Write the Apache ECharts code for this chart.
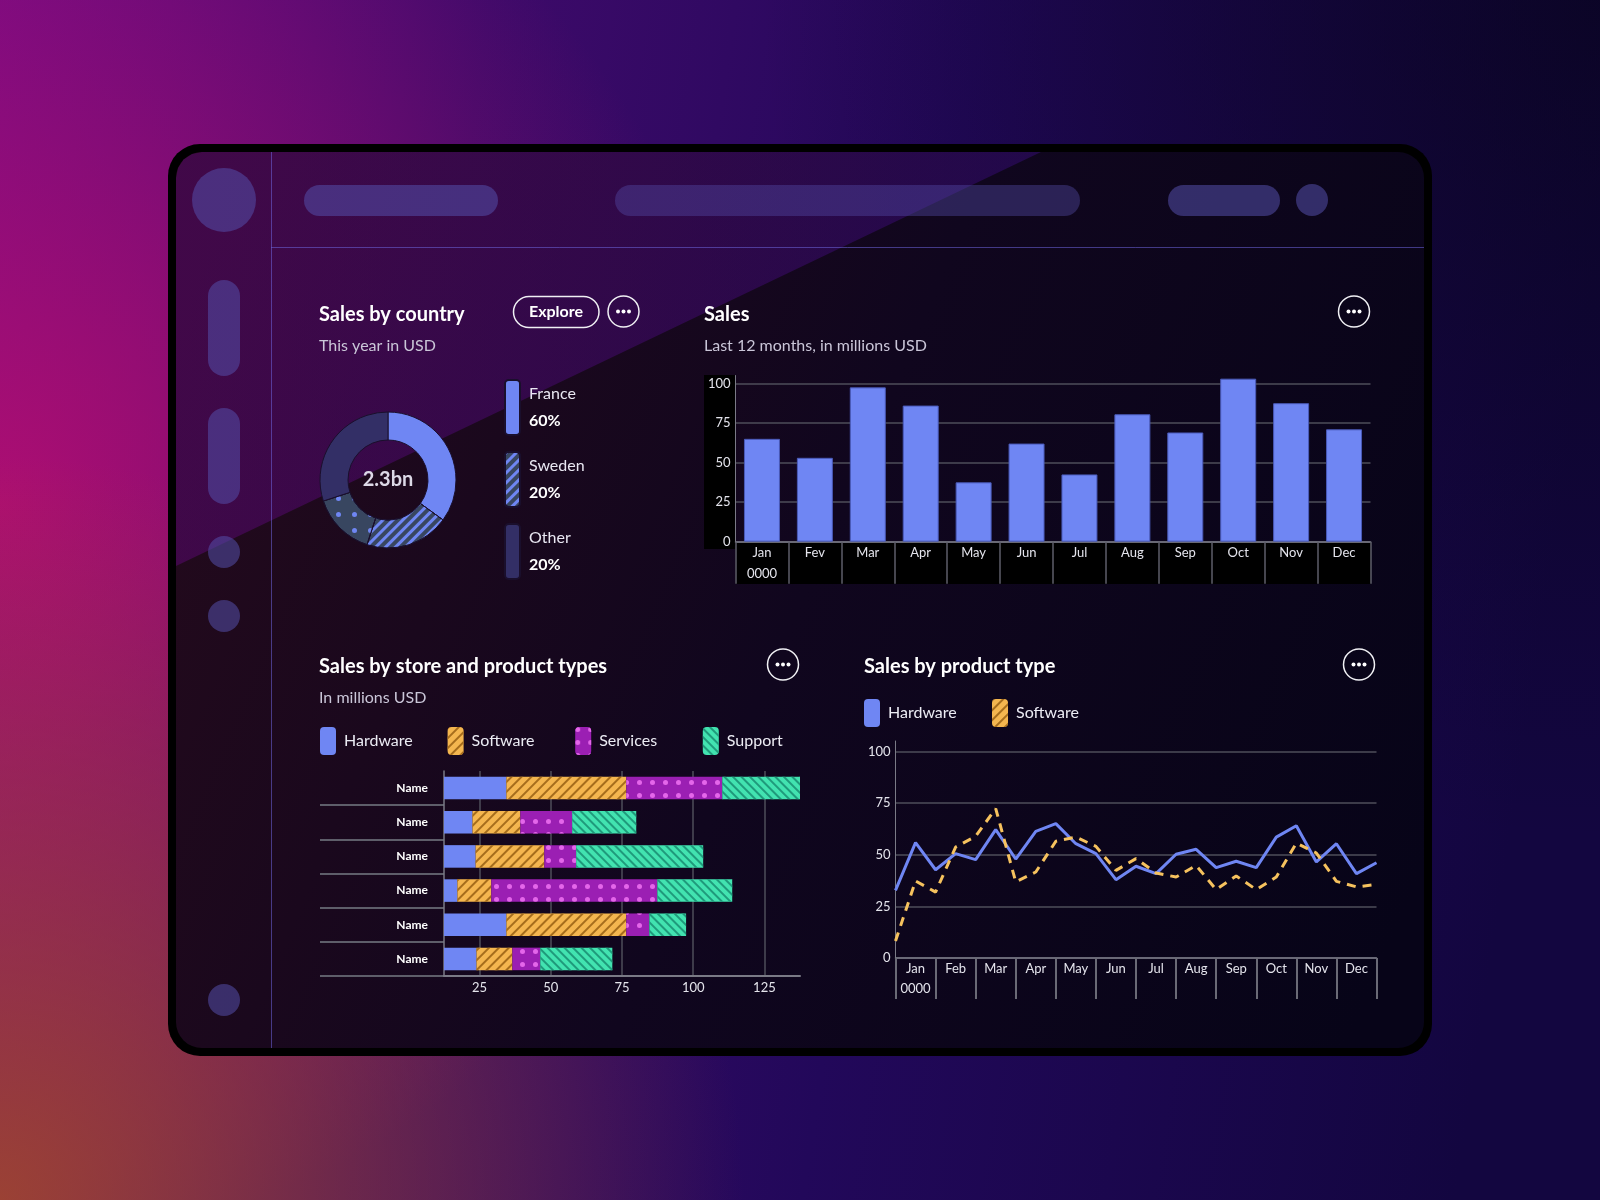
<!DOCTYPE html>
<html>
<head>
<meta charset="utf-8">
<title>Sales dashboard</title>
<script src="https://cdn.jsdelivr.net/npm/echarts@6/dist/echarts.min.js"></script>
<style>
  html, body { margin: 0; padding: 0; background: #1a0845; }
  #chart { width: 1600px; height: 1200px; }
</style>
</head>
<body>
<div id="chart"></div>
<script>
// --- data -------------------------------------------------------------
// Sales by country (donut)
const countries = ['France', 'Sweden', 'Unlisted', 'Other'];
const countryShares = [35, 20, 15, 30];
const legendCountries = ['France', 'Sweden', 'Other'];
const legendShares = ['60%', '20%', '20%'];
const totalLabel = '2.3bn';

// Sales, last 12 months
const months = ['Jan', 'Fev', 'Mar', 'Apr', 'May', 'Jun', 'Jul', 'Aug', 'Sep', 'Oct', 'Nov', 'Dec'];
const monthlySales = [65, 53, 97.5, 86, 37.5, 62, 42.5, 80.5, 69, 103, 87.5, 71];
const yearLabel = '0000';

// Sales by store and product types
const storeNames = ['Name', 'Name', 'Name', 'Name', 'Name', 'Name'];
const productTypes = ['Hardware', 'Software', 'Services', 'Support'];
const hardwareByStore = [34.4, 22.5, 23.6, 17.2, 34.4, 23.9];
const softwareByStore = [42.1, 16.8, 24.1, 11.9, 42.1, 12.6];
const servicesByStore = [33.7, 18.2, 11.2, 58.3, 8.1, 9.8];
const supportByStore = [27.3, 22.5, 44.6, 26.3, 12.9, 25.3];

// Sales by product type (two points per month + end point)
const trendMonths = ['Jan', 'Feb', 'Mar', 'Apr', 'May', 'Jun', 'Jul', 'Aug', 'Sep', 'Oct', 'Nov', 'Dec'];
const trendSteps = ['1', '2', '3', '4', '5', '6', '7', '8', '9', '10', '11', '12', '13',
  '14', '15', '16', '17', '18', '19', '20', '21', '22', '23', '24', '25'];
const hardwareTrend = [32.7, 55.8, 42.7, 50.5, 47.6, 62.1, 47.9, 61.3, 65.0, 55.3, 50.5, 37.9, 44.4,
  40.8, 50.2, 52.6, 43.7, 46.8, 43.7, 58.5, 64.0, 46.5, 55.3, 40.8, 46.1];
const softwareTrend = [8.2, 37.3, 31.9, 53.7, 58.9, 72.3, 36.8, 41.6, 56.5, 58.5, 54.0, 42.4, 48.1,
  41.1, 39.2, 44.8, 33.1, 39.7, 33.1, 39.2, 55.6, 50.8, 37.1, 34.4, 35.6];

// --- styles -----------------------------------------------------------
const FONT = 'Lato';
const BLUE = '#6f86f3';
const AXIS_GRAY = '#7a7a86';
const GRID_GRAY = '#4e4e5a';
const TICK_GRAY = '#5e5e6a';
const LABEL = '#e4e4ec';

function stripes(color, rotation, width, gap) {
  return { symbol: 'rect', symbolSize: 1, color, dashArrayX: [1, 0], dashArrayY: [width, gap], rotation };
}
function dots(color, size, gap) {
  return { symbol: 'circle', symbolSize: 1, color, dashArrayX: [size, gap], dashArrayY: [size, gap] };
}

const countryStyles = [
  { color: BLUE },
  { color: '#384660', decal: stripes(BLUE, -Math.PI / 4, 3, 4) },
  { color: '#384660', decal: dots(BLUE, 5, 11) },
  { color: '#332f66' }
];
const productStyles = [
  { color: BLUE },
  { color: '#f4b64f', decal: stripes('#a66d1c', -Math.PI / 4, 2, 5) },
  { color: '#9b1fb3', decal: dots('#e466ea', 4.5, 7.5) },
  { color: '#42e3b0', decal: stripes('#1f9a7b', Math.PI / 4, 1.5, 4) }
];
const storeValues = [hardwareByStore, softwareByStore, servicesByStore, supportByStore];

// --- decoration helpers ------------------------------------------------
const SHAPE_FILL = 'rgba(84,78,170,0.55)';
const LINE_FILL = 'rgba(110,100,220,0.55)';

function pill(x, y, w, h, fill) {
  return { type: 'rect', z: -10, silent: true, shape: { x, y, width: w, height: h, r: Math.min(w, h) / 2 }, style: { fill: fill || SHAPE_FILL } };
}
function disc(cx, cy, r, fill) {
  return { type: 'circle', z: -10, silent: true, shape: { cx, cy, r }, style: { fill: fill || SHAPE_FILL } };
}
function moreButton(cx, cy) {
  return {
    type: 'group', silent: true,
    children: [
      { type: 'circle', shape: { cx, cy, r: 15.5 }, style: { fill: 'none', stroke: '#f0f0f4', lineWidth: 1.5 } },
      { type: 'circle', shape: { cx: cx - 5.5, cy, r: 2 }, style: { fill: '#fff' } },
      { type: 'circle', shape: { cx, cy, r: 2 }, style: { fill: '#fff' } },
      { type: 'circle', shape: { cx: cx + 5.5, cy, r: 2 }, style: { fill: '#fff' } }
    ]
  };
}

const background = [
  { type: 'rect', z: -20, silent: true, shape: { x: 0, y: 0, width: 1600, height: 1200 },
    style: { fill: { type: 'linear', x: 0, y: 0, x2: 1, y2: 0.2, colorStops: [
      { offset: 0, color: '#6c0a84' }, { offset: 0.3, color: '#3e0a6a' },
      { offset: 0.6, color: '#22085a' }, { offset: 1, color: '#130640' }] } } },
  { type: 'rect', z: -20, silent: true, shape: { x: 0, y: 0, width: 1600, height: 1200 },
    style: { fill: { type: 'radial', x: 0, y: 0.42, r: 0.62, colorStops: [
      { offset: 0, color: 'rgba(190,15,110,0.8)' }, { offset: 1, color: 'rgba(190,15,110,0)' }] } } },
  { type: 'rect', z: -20, silent: true, shape: { x: 0, y: 0, width: 1600, height: 1200 },
    style: { fill: { type: 'radial', x: 0, y: 1, r: 0.62, colorStops: [
      { offset: 0, color: 'rgba(165,75,40,0.85)' }, { offset: 1, color: 'rgba(165,75,40,0)' }] } } },
  { type: 'rect', z: -20, silent: true, shape: { x: 0, y: 0, width: 1600, height: 1200 },
    style: { fill: { type: 'radial', x: 1, y: 0, r: 0.7, colorStops: [
      { offset: 0, color: 'rgba(8,4,28,0.7)' }, { offset: 1, color: 'rgba(8,4,28,0)' }] } } },
  // device frame and screen
  { type: 'rect', z: -15, silent: true, shape: { x: 168, y: 144, width: 1264, height: 912, r: 32 }, style: { fill: '#000' } },
  { type: 'rect', z: -14, silent: true, shape: { x: 176, y: 152, width: 1248, height: 896, r: 26 },
    style: { fill: { type: 'linear', x: 0, y: 0.2, x2: 1, y2: 0.8, colorStops: [
      { offset: 0, color: '#240a1c' }, { offset: 0.5, color: '#10061e' }, { offset: 1, color: '#070418' }] } } },
  { type: 'polygon', z: -13, silent: true,
    shape: { points: [[176, 178], [178, 168], [183.6, 159.6], [192, 154], [202, 152], [1041, 152], [176, 566]] },
    style: { fill: { type: 'linear', x: 0, y: 0, x2: 1, y2: 0, colorStops: [
      { offset: 0, color: 'rgba(112,6,145,0.38)' }, { offset: 1, color: 'rgba(70,14,160,0.34)' }] } } },
  { type: 'line', z: -12, silent: true, shape: { x1: 271.5, y1: 152, x2: 271.5, y2: 1048 }, style: { stroke: LINE_FILL, lineWidth: 1 } },
  { type: 'line', z: -12, silent: true, shape: { x1: 271, y1: 247.5, x2: 1424, y2: 247.5 }, style: { stroke: LINE_FILL, lineWidth: 1 } },
  // sidebar
  disc(224, 200, 32), pill(208, 280, 32, 96), pill(208, 408, 32, 96),
  disc(224, 552, 16), disc(224, 616, 16), disc(224, 1000, 16),
  // top bar
  pill(304, 185, 194, 31), pill(615, 185, 465, 31, 'rgba(84,78,170,0.4)'), pill(1168, 185, 112, 31), disc(1312, 200, 16),
  // dark panels behind the sales axes
  { type: 'rect', z: -9, silent: true, shape: { x: 704, y: 375, width: 31.5, height: 174 }, style: { fill: '#000' } },
  { type: 'rect', z: -9, silent: true, shape: { x: 735.5, y: 541.5, width: 635.5, height: 42.5 }, style: { fill: '#000' } }
];

const controls = [
  { type: 'rect', silent: true, shape: { x: 513.5, y: 296.5, width: 85.5, height: 31, r: 15.5 },
    style: { fill: 'none', stroke: '#f0f0f4', lineWidth: 1.5 } },
  { type: 'text', silent: true, x: 556, y: 312,
    style: { text: 'Explore', fill: '#fff', fontFamily: FONT, fontSize: 16, fontWeight: 'bold', align: 'center', verticalAlign: 'middle' } },
  moreButton(623.5, 311.5), moreButton(1354, 311.5), moreButton(783, 664.5), moreButton(1359, 664.5),
  { type: 'text', silent: true, x: 388, y: 480,
    style: { text: totalLabel, fill: '#dcd8e6', fontFamily: FONT, fontSize: 20, fontWeight: 'bold', align: 'center', verticalAlign: 'middle' } }
];

function panelTitle(text, subtext, left, top) {
  return {
    text, subtext, left, top, padding: 0, itemGap: 9,
    textStyle: { color: '#fff', fontFamily: FONT, fontSize: 20, fontWeight: 'bold', lineHeight: 24 },
    subtextStyle: { color: '#cac6d8', fontFamily: FONT, fontSize: 16, lineHeight: 20 }
  };
}

const legendText = { color: '#ececf4', fontFamily: FONT, fontSize: 16 };

// one legend per entry so that the entries sit on an even pitch
function legendItem(name, left, top) {
  return {
    data: [name], left, top, padding: 0,
    itemWidth: 16, itemHeight: 28, icon: 'roundRect', selectedMode: false,
    textStyle: Object.assign({ padding: [0, 0, 0, 3] }, legendText)
  };
}
const storeLegends = productTypes.map((name, i) => legendItem(name, 320 + i * 127.6, 727));
const trendLegends = productTypes.slice(0, 2).map((name, i) => legendItem(name, 864 + i * 128, 699));

// row separators left of the store bars: one under each row, none above the first
const separatorColors = ['rgba(0,0,0,0)'].concat(storeNames.map(() => TICK_GRAY));

const valueLabel = { color: LABEL, fontFamily: FONT, fontSize: 13 };

const chart = echarts.init(document.getElementById('chart'));

chart.setOption({
  animation: false,
  graphic: { elements: background.concat(controls) },
  title: [
    panelTitle('Sales by country', 'This year in USD', 319, 303),
    panelTitle('Sales', 'Last 12 months, in millions USD', 704, 303),
    panelTitle('Sales by store and product types', 'In millions USD', 319, 655),
    panelTitle('Sales by product type', '', 864, 655)
  ],
  legend: [
    {
      data: legendCountries, orient: 'vertical', left: 504, top: 379, padding: 0,
      itemWidth: 15, itemHeight: 55, itemGap: 15, icon: 'roundRect', selectedMode: false,
      formatter: name => '{n|' + name + '}\n{p|' + legendShares[legendCountries.indexOf(name)] + '}',
      textStyle: {
        padding: [0, 0, 0, 4],
        rich: {
          n: { color: '#e9e7f2', fontFamily: FONT, fontSize: 16, lineHeight: 27 },
          p: { color: '#fff', fontFamily: FONT, fontSize: 16, fontWeight: 'bold', lineHeight: 27 }
        }
      }
    },
    ...storeLegends,
    ...trendLegends
  ],
  grid: [
    { left: 444, top: 771, width: 356, height: 205 },
    { left: 735.5, top: 375.5, width: 635, height: 166.2 },
    { left: 895.5, top: 741, width: 481, height: 217 },
    { left: 320, top: 771, width: 124, height: 205 }
  ],
  xAxis: [
    {
      gridIndex: 0, type: 'value', min: 12.5, max: 137.5, interval: 12.5,
      axisLine: { show: true, lineStyle: { color: AXIS_GRAY, width: 2 } },
      axisTick: { show: false },
      splitLine: { lineStyle: { color: ['rgba(0,0,0,0)', GRID_GRAY], width: 1.5 } },
      axisLabel: Object.assign({ margin: 5, formatter: v => (v % 25 === 0 ? String(v) : '') }, valueLabel)
    },
    {
      gridIndex: 1, type: 'category', data: months,
      axisLine: { lineStyle: { color: AXIS_GRAY, width: 1.5 } },
      axisTick: { show: true, interval: 0, length: 42, lineStyle: { color: TICK_GRAY, width: 1.5 } },
      axisLabel: Object.assign({ margin: 1, lineHeight: 21, interval: 0,
        formatter: (v, i) => (i === 0 ? v + '\n' + yearLabel : v) }, valueLabel)
    },
    {
      gridIndex: 2, type: 'category', data: trendMonths,
      axisLine: { lineStyle: { color: AXIS_GRAY, width: 1.5 } },
      axisTick: { show: true, interval: 0, length: 41, lineStyle: { color: '#6a6a76', width: 2 } },
      axisLabel: Object.assign({ margin: 1, lineHeight: 20, interval: 0,
        formatter: (v, i) => (i === 0 ? v + '\n' + yearLabel : v) }, valueLabel)
    },
    { gridIndex: 2, type: 'category', data: trendSteps, boundaryGap: false, show: false },
    { gridIndex: 3, type: 'value', min: 0, max: 1, show: false }
  ],
  yAxis: [
    {
      gridIndex: 0, type: 'category', data: storeNames, inverse: true,
      axisLine: { lineStyle: { color: AXIS_GRAY, width: 1.5 } },
      axisTick: { show: false },
      axisLabel: { margin: 16, interval: 0, color: '#fff', fontFamily: FONT, fontSize: 12, fontWeight: 'bold' }
    },
    {
      gridIndex: 1, type: 'value', min: 0, max: 105, interval: 25,
      axisLine: { show: true, lineStyle: { color: AXIS_GRAY, width: 1 } },
      axisTick: { show: false },
      splitLine: { showMaxLine: false, lineStyle: { color: GRID_GRAY, width: 1.5 } },
      axisLabel: Object.assign({ margin: 5, showMaxLabel: false }, valueLabel)
    },
    {
      gridIndex: 2, type: 'value', min: 0, max: 105, interval: 25,
      axisLine: { show: true, lineStyle: { color: AXIS_GRAY, width: 1 } },
      axisTick: { show: false },
      splitLine: { showMaxLine: false, lineStyle: { color: GRID_GRAY, width: 1.5 } },
      axisLabel: Object.assign({ margin: 5, showMaxLabel: false }, valueLabel)
    },
    {
      gridIndex: 3, type: 'category', data: storeNames, inverse: true,
      axisLine: { show: false }, axisTick: { show: false }, axisLabel: { show: false },
      splitLine: { show: true, interval: 0, lineStyle: { color: separatorColors, width: 2 } }
    }
  ],
  series: [
    {
      type: 'pie', name: 'Sales by country', center: [388, 480], radius: [40, 68], startAngle: 90,
      silent: true, label: { show: false }, labelLine: { show: false },
      itemStyle: { borderColor: '#1a0f2c', borderWidth: 1 },
      data: countries.map((name, i) => ({ name, value: countryShares[i], itemStyle: countryStyles[i] }))
    },
    ...productTypes.map((name, i) => ({
      type: 'bar', name, stack: 'store', xAxisIndex: 0, yAxisIndex: 0, barWidth: '66%', silent: true,
      itemStyle: productStyles[i],
      data: storeValues[i]
    })),
    {
      type: 'bar', name: 'Sales', xAxisIndex: 1, yAxisIndex: 1, barWidth: '68%', silent: true,
      itemStyle: { color: BLUE, borderColor: '#4a5ab8', borderWidth: 1 },
      data: monthlySales
    },
    {
      type: 'line', name: 'Hardware', xAxisIndex: 3, yAxisIndex: 2, showSymbol: false, silent: true,
      lineStyle: { color: BLUE, width: 3 }, itemStyle: { color: BLUE },
      data: hardwareTrend
    },
    {
      type: 'line', name: 'Software', xAxisIndex: 3, yAxisIndex: 2, showSymbol: false, silent: true,
      lineStyle: { color: '#f6c25e', width: 3, type: [9, 7] }, itemStyle: { color: '#f6c25e' },
      data: softwareTrend
    }
  ]
});
</script>
</body>
</html>
